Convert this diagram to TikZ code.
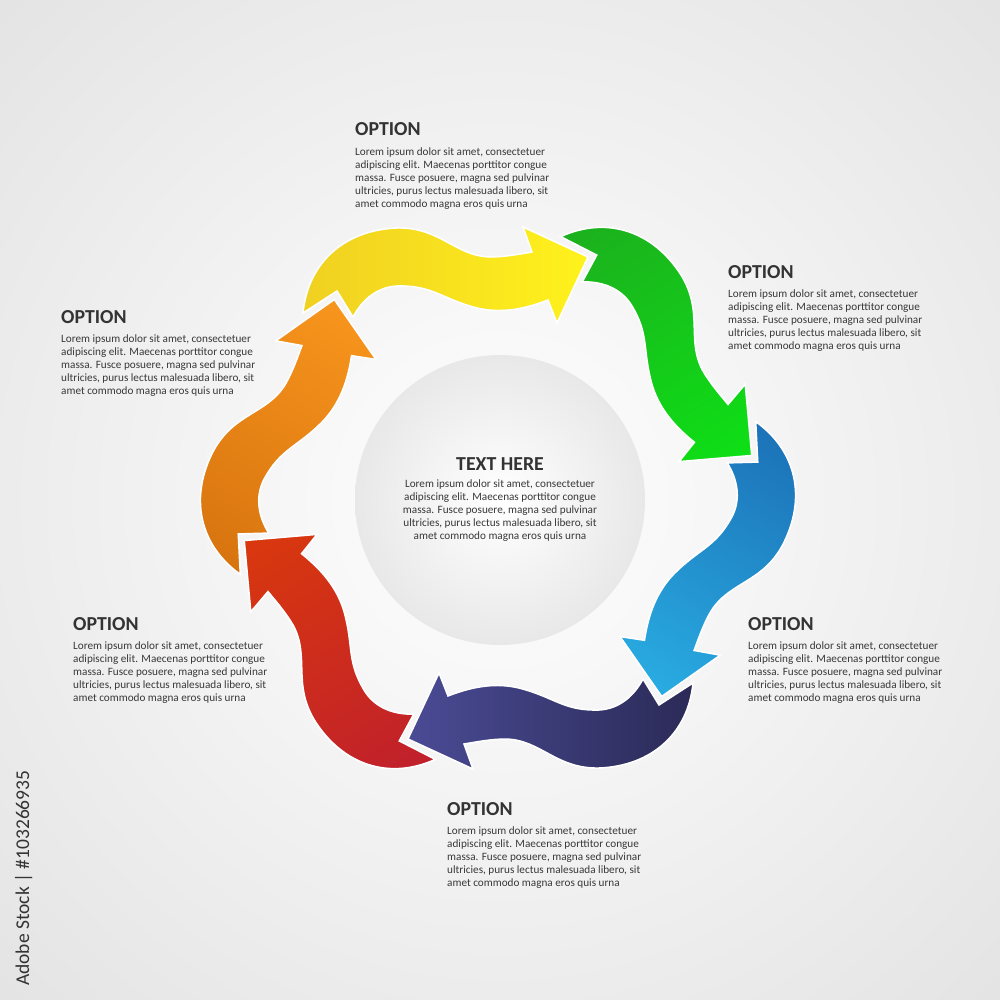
\documentclass[tikz,border=0pt]{standalone}
\usepackage{fontspec}
\setmainfont{Carlito}
\usetikzlibrary{positioning}

\definecolor{titlegray}{HTML}{333333}
\definecolor{bodygray}{HTML}{383838}
\definecolor{bggray}{HTML}{E4E4E4}
\definecolor{circgray}{HTML}{E8E8E8}
\definecolor{ytail}{HTML}{F0D021}
\definecolor{ytip}{HTML}{FFF21C}
\definecolor{gtail}{HTML}{1CB01E}
\definecolor{gtip}{HTML}{0EE016}
\definecolor{btail}{HTML}{1C72B8}
\definecolor{btip}{HTML}{29ACE2}
\definecolor{ptail}{HTML}{2B2A57}
\definecolor{ptip}{HTML}{4A4B95}
\definecolor{rtail}{HTML}{C0202B}
\definecolor{rtip}{HTML}{D9380E}
\definecolor{otail}{HTML}{D8740F}
\definecolor{otip}{HTML}{F7951D}

\newcommand{\loremtext}{Lorem ipsum dolor sit amet, consectetuer\\adipiscing elit. Maecenas porttitor congue\\massa. Fusce posuere, magna sed pulvinar\\ultricies, purus lectus malesuada libero, sit\\amet commodo magna eros quis urna}

\newcommand{\wavyarrow}{(303,313) .. controls (308,262) and (345,230) .. (397,228) .. controls (440,227) and (455,256) .. (490,257) .. controls (505,257) and (520,254) .. (532,252) -- (523,227) -- (588,257) -- (557,323) -- (548,300) .. controls (520,311) and (495,314) .. (470,306) .. controls (440,297) and (430,285) .. (397,286) .. controls (377,287) and (362,300) .. (353,317) -- (337,291) -- cycle}

\tikzset{
	arrowbody/.style={draw=white, line width=1.5pt},
	opttitle/.style={anchor=base west, inner sep=0pt, text=titlegray, font=\bfseries\fontsize{19.8}{20}\selectfont},
	optbody/.style={anchor=north west, inner sep=0pt, align=left, text=bodygray, font=\fontsize{11.2}{13}\selectfont},
	centretitle/.style={anchor=base, inner sep=0pt, text=titlegray, font=\bfseries\fontsize{19.8}{20}\selectfont},
	centrebody/.style={anchor=north, inner sep=0pt, align=center, text=bodygray, font=\fontsize{11.2}{13}\selectfont}
}

\begin{document}
\begin{tikzpicture}[x=1pt, y=-1pt]
	\useasboundingbox (0,0) rectangle (1000,1000);
	\clip (0,0) rectangle (1000,1000);
	\shade [inner color=white, outer color=bggray] (-200,-200) rectangle (1200,1200);
	\shade [inner color=white, outer color=circgray] (500,500) circle (145);
	\foreach \k/\tailc/\tipc [evaluate=\k as \ang using -60*\k] in {0/ytail/ytip, 1/gtail/gtip, 2/btail/btip, 3/ptail/ptip, 4/rtail/rtip, 5/otail/otip}{
		\begin{scope}[transform canvas={rotate around={\ang:(498,498)}}]
			\path [arrowbody, left color=\tailc, right color=\tipc] \wavyarrow;
		\end{scope}
	}
	\node [centretitle] (centre) at (500,470) {TEXT HERE};
	\node [centrebody] (centretxt) at (500,480) {\loremtext};
	\foreach \n/\x/\y in {1/355/136, 2/728/278, 3/748/630, 4/447/815, 5/73/630, 6/61/323}{
		\node [opttitle] (opt\n) at (\x,\y) {OPTION};
		\node [optbody] (txt\n) at (\x,\y+12) {\loremtext};
	}
	\node [rotate=90, anchor=base west, inner sep=0pt, text=titlegray, font=\fontsize{19.5}{20}\selectfont] (stockid) at (29,986) {Adobe Stock | \#103266935};
\end{tikzpicture}
\end{document}
